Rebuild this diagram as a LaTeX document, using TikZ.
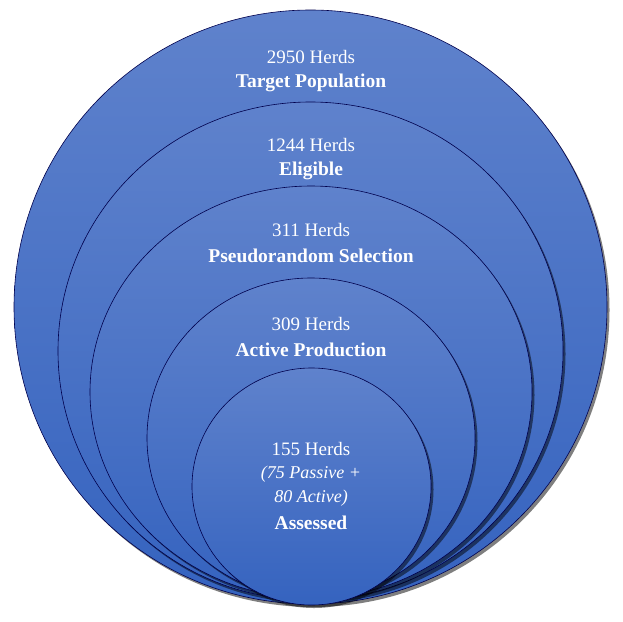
\documentclass[tikz,border=0pt]{standalone}
\usepackage{fontspec}
\setmainfont{Liberation Serif}
\usetikzlibrary{shadings}
\definecolor{topb}{HTML}{5F82CC}
\definecolor{botb}{HTML}{3563BF}
\tikzset{
  ring/.style={draw=black!70!blue, line width=0.6pt, top color=topb, bottom color=botb},
  shad/.style={fill=black, opacity=0.5},
  lbl/.style={text=white, font=\fontsize{19}{22}\selectfont, align=center},
  blbl/.style={text=white, font=\fontsize{19.5}{23}\selectfont\bfseries, align=center},
  ilbl/.style={text=white, font=\fontsize{18}{21}\selectfont\itshape, align=center},
}
\begin{document}
\begin{tikzpicture}[x=1pt,y=-1pt]
\useasboundingbox (0,0) rectangle (623,621);
\foreach \cx/\cy/\rx/\ry in {310.5/307/296.5/297, 310.5/351/252.5/249, 311/392/221/206, 311/438/164/160, 311.5/486.5/119.5/118.5}{
  \fill[shad] (\cx+2.5,\cy+3) ellipse[x radius=\rx, y radius=\ry];
  \path[ring] (\cx,\cy) ellipse[x radius=\rx, y radius=\ry];
}
\node[lbl] (n1) at (311,57) {2950 Herds};
\node[blbl] (t1) at (311,83) {Target Population};
\node[lbl] (n2) at (311,145) {1244 Herds};
\node[blbl] (t2) at (311,171) {Eligible};
\node[lbl] (n3) at (311,230) {311 Herds};
\node[blbl] (t3) at (311,256) {Pseudorandom Selection};
\node[lbl] (n4) at (311,324) {309 Herds};
\node[blbl] (t4) at (311,350) {Active Production};
\node[lbl] (n5) at (311,449) {155 Herds};
\node[ilbl] (p5) at (311,474) {(75 Passive +};
\node[ilbl] (a5) at (311,498) {80 Active)};
\node[blbl] (t5) at (311,523) {Assessed};
\end{tikzpicture}
\end{document}
